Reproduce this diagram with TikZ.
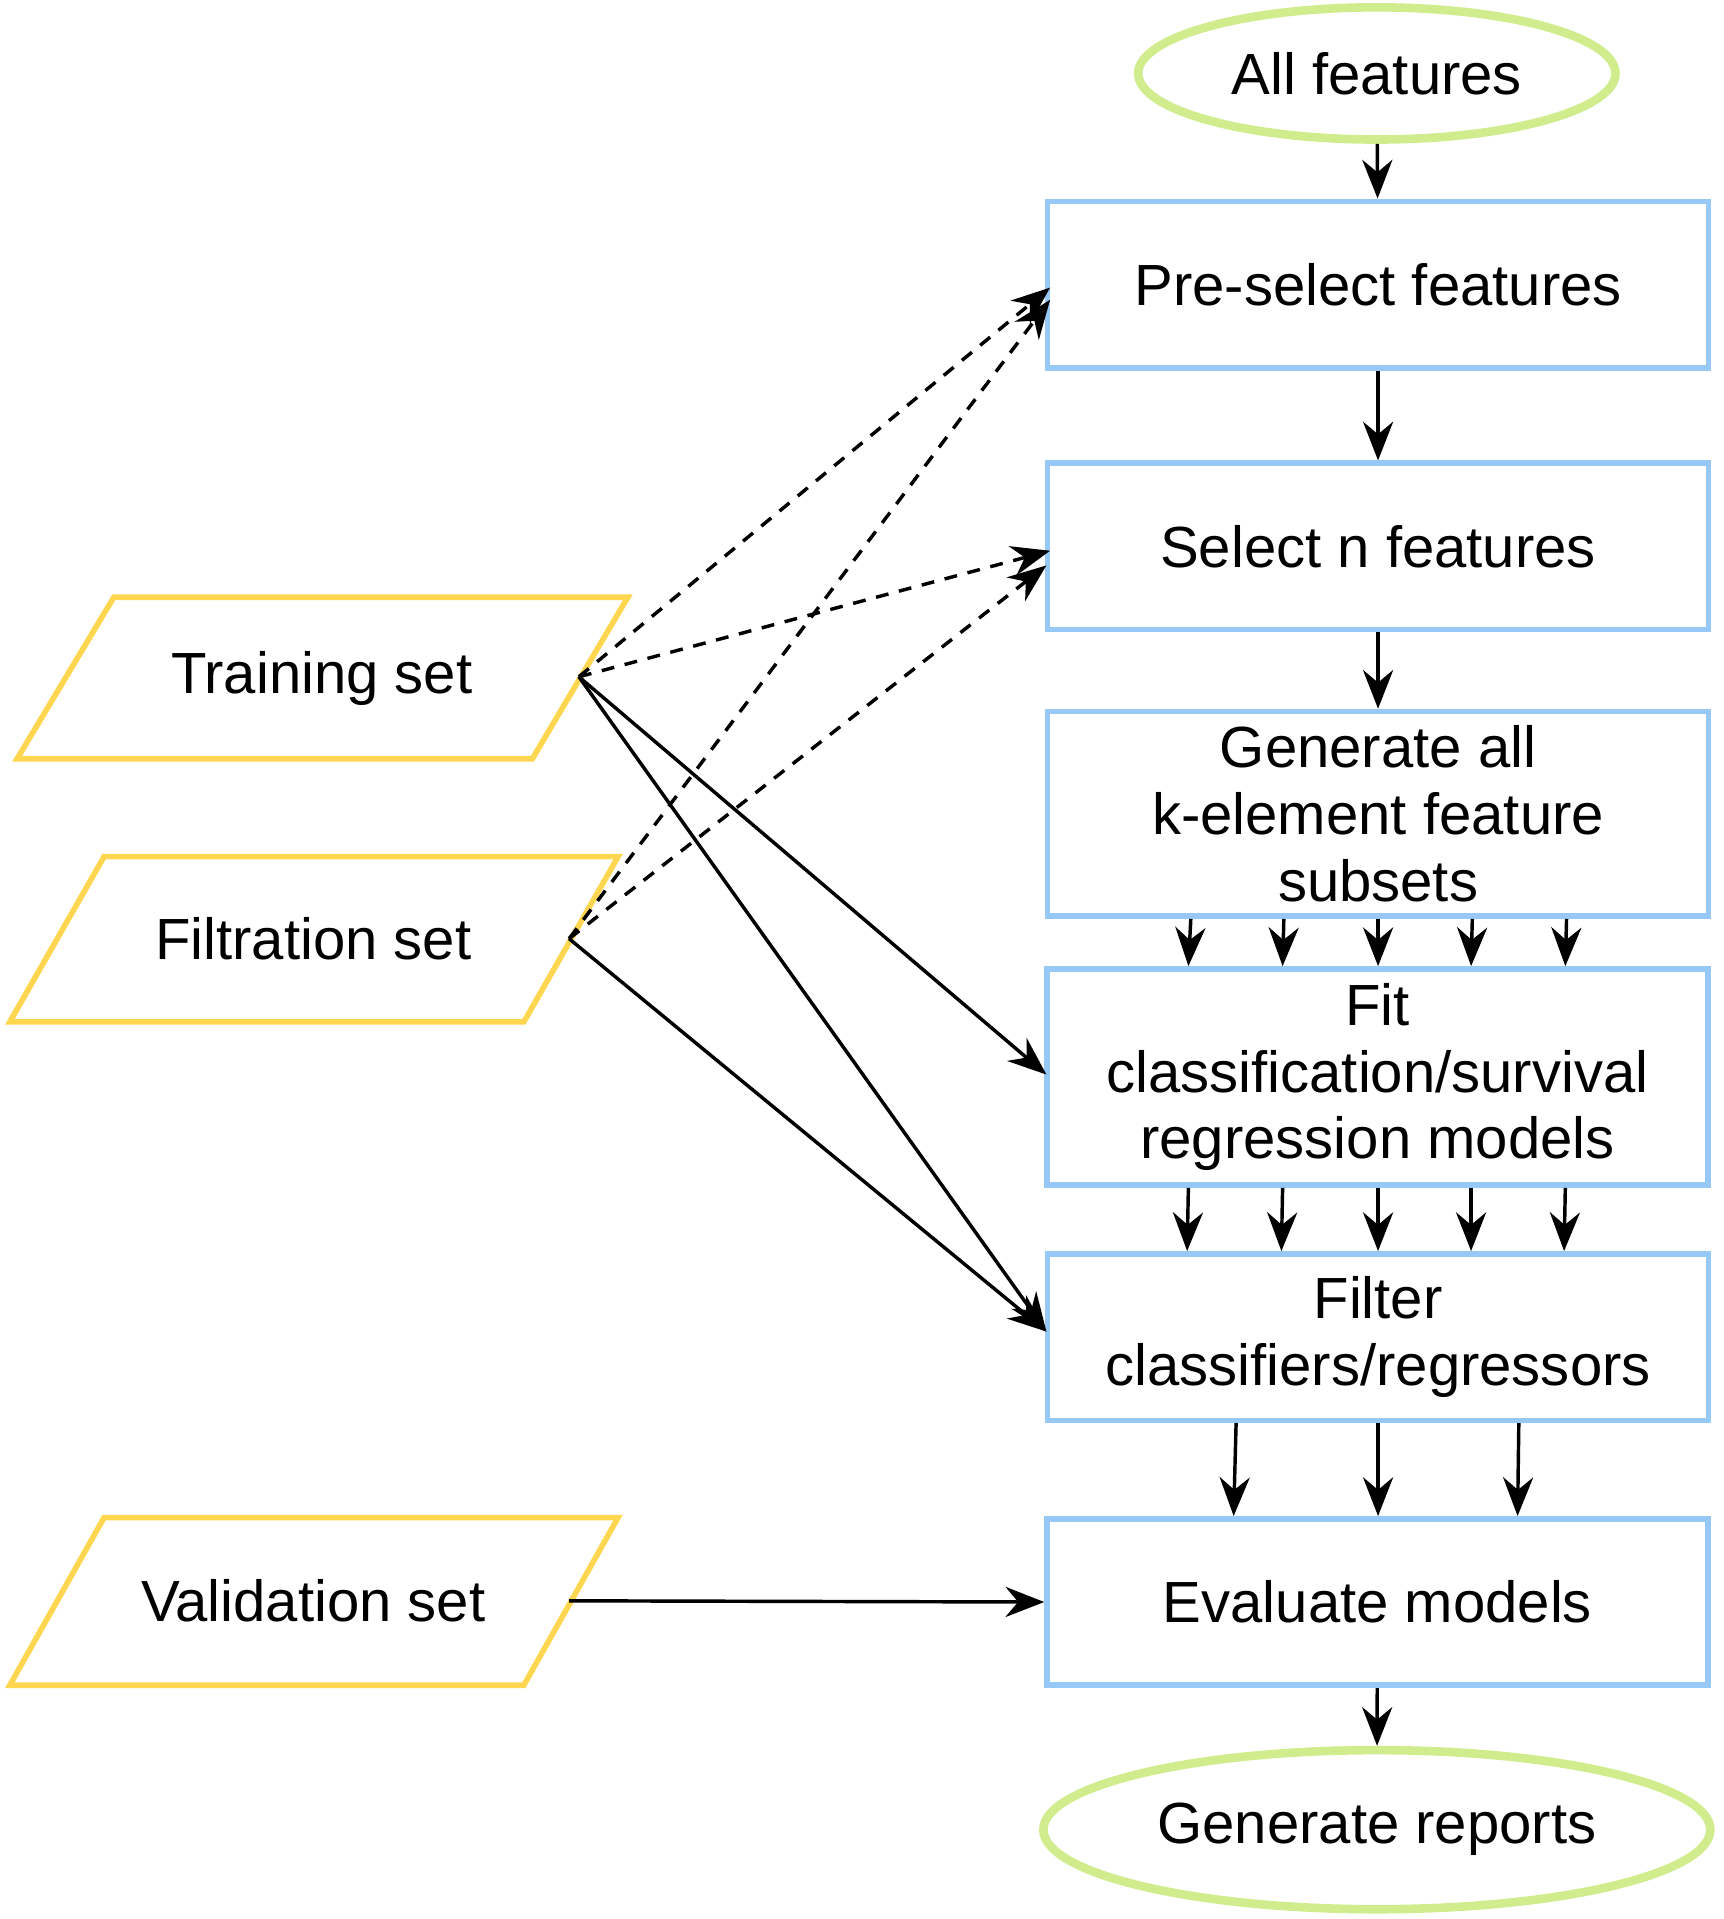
\documentclass[tikz,border=0pt]{standalone}
\usepackage{fontspec}
\setmainfont{Liberation Sans}
\usetikzlibrary{shapes.geometric,arrows.meta}
\definecolor{bx}{RGB}{150,200,248}
\definecolor{yl}{RGB}{255,214,80}
\definecolor{gr}{RGB}{208,236,140}
\begin{document}
\begin{tikzpicture}[x=1cm,y=1cm,
  box/.style={draw=bx,line width=1.3pt,minimum width=5.4cm,minimum height=1.36cm,align=center,font=\fontsize{13.5}{15.5}\selectfont},
  ell/.style={draw=gr,ellipse,line width=2pt,align=center,font=\fontsize{13.5}{15.5}\selectfont},
  par/.style={draw=yl,line width=1.3pt},
  lbl/.style={font=\fontsize{13.5}{15.5}\selectfont},
  ar/.style={-{Stealth[length=9pt,width=7pt]},line width=0.8pt},
  da/.style={ar,dash pattern=on 3pt off 2.5pt}]
\useasboundingbox (0,0) rectangle (14.08,-15.68);
\node[ell,minimum width=3.9cm,minimum height=1.08cm] (all) at (11.25,-0.6) {All features};
\node[box] (pre) at (11.26,-2.325) {Pre-select features};
\node[box] (sel) at (11.26,-4.465) {Select n features};
\node[box] (gen) at (11.26,-6.65) {Generate all\\k-element feature\\subsets};
\node[box] (fit) at (11.255,-8.8) {Fit\\classification/survival\\regression models};
\node[box] (fil) at (11.26,-10.925) {Filter\\classifiers/regressors};
\node[box] (eva) at (11.255,-13.09) {Evaluate models};
\node[ell,minimum width=5.45cm,minimum height=1.3cm] (rep) at (11.25,-14.95) {Generate reports};
% parallelograms
\draw[par] (0.93,-4.88) -- (5.13,-4.88) -- (4.35,-6.2) -- (0.14,-6.2) -- cycle;
\node[lbl] (tr) at (2.63,-5.54) {Training set};
\coordinate (trp) at (4.73,-5.53);
\draw[par] (0.85,-7.0) -- (5.05,-7.0) -- (4.28,-8.35) -- (0.08,-8.35) -- cycle;
\node[lbl] (fi) at (2.56,-7.67) {Filtration set};
\coordinate (fip) at (4.65,-7.67);
\draw[par] (0.85,-12.4) -- (5.05,-12.4) -- (4.28,-13.77) -- (0.08,-13.77) -- cycle;
\node[lbl] (va) at (2.56,-13.08) {Validation set};
\coordinate (vap) at (4.65,-13.08);
% main flow
\draw[ar] (all) -- (pre);
\draw[ar] (pre) -- (sel);
\draw[ar] (sel) -- (gen);
\foreach \a/\b in {9.73/9.71,10.49/10.48,11.26/11.26,12.03/12.02,12.8/12.79}
  \draw[ar] (gen.south -| \a,0) -- (fit.north -| \b,0);
\foreach \a/\b in {9.71/9.70,10.48/10.47,11.26/11.26,12.02/12.02,12.79/12.78}
  \draw[ar] (fit.south -| \a,0) -- (fil.north -| \b,0);
\foreach \a/\b in {10.1/10.08,11.26/11.26,12.41/12.40}
  \draw[ar] (fil.south -| \a,0) -- (eva.north -| \b,0);
\draw[ar] (eva) -- (rep);
% side connectors
\draw[da] (trp) -- (8.58,-2.35);
\draw[da] (trp) -- (8.58,-4.5);
\draw[da] (fip) -- (8.58,-2.45);
\draw[da] (fip) -- (8.55,-4.62);
\draw[ar] (trp) -- (8.55,-8.78);
\draw[ar] (trp) -- (8.55,-10.88);
\draw[ar] (fip) -- (8.55,-10.88);
\draw[ar] (vap) -- (eva.west);
\end{tikzpicture}
\end{document}
